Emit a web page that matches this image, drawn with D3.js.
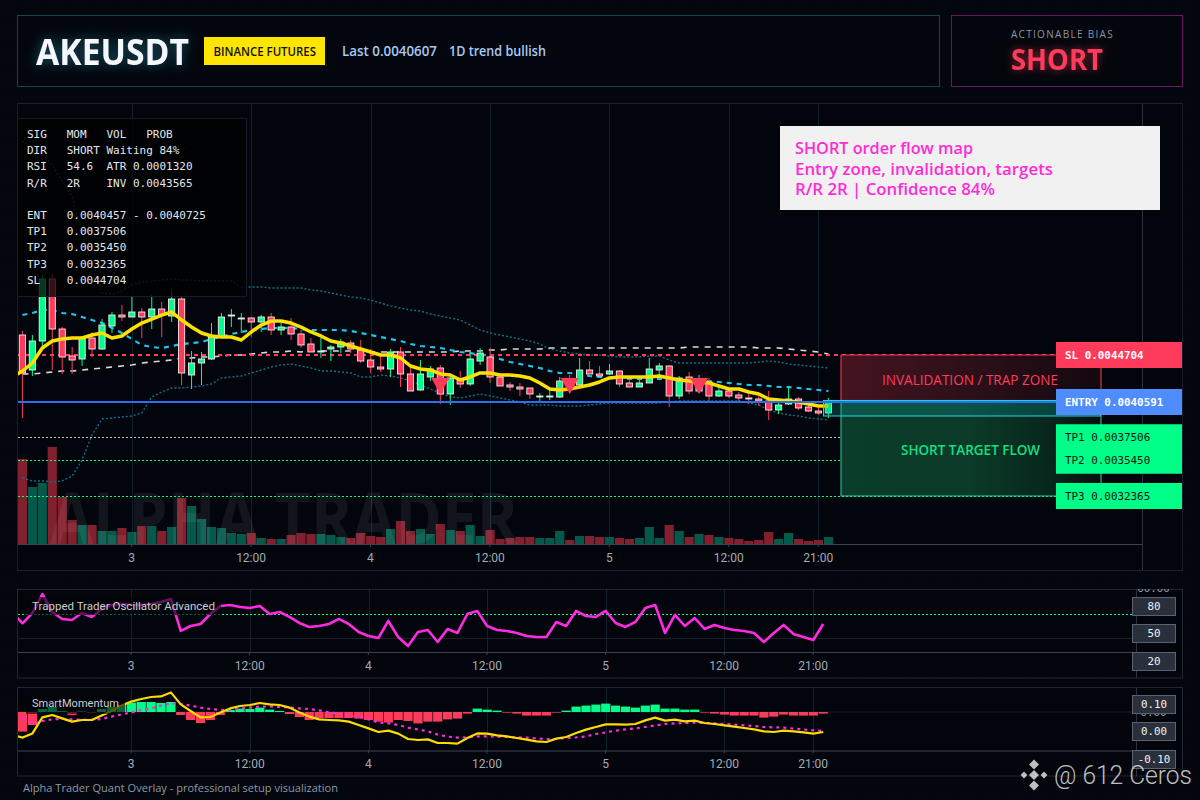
<!DOCTYPE html>
<html><head><meta charset="utf-8">
<script src="https://cdn.jsdelivr.net/npm/d3@7"></script>
<style>html,body{margin:0;padding:0;background:#03060c;overflow:hidden}svg{display:block}</style>
</head><body><div id="chart"></div>
<script>
// Prices are in units of 1e-7 USDT
const opens=[46454,43392,45929,51354,46979,44617,44354,46192,45229,47242,48204,48029,48467,48029,48729,48117,49604,42954,44004,44354,46279,48117,47854,47942,47592,48029,46892,47154,46542,45667,44967,45229,45404,45754,45142,44267,43654,43479,44967,43042,41642,42779,43567,41292,42517,42167,44179,44529,42779,42079,41904,41817,41029,41029,41029,42517,42079,43392,43042,43042,43304,42254,41904,42254,43392,43742,41117,42779,41554,42342,41117,41554,41204,40942,40854,40679,39892,40417,40854,40154,39804,39629];
const closes=[43129,45929,51354,46979,44529,44267,46192,45229,47329,48204,48029,48467,48029,48729,48204,49604,43129,44004,44354,46279,48029,48204,47942,47592,48029,46892,47154,46542,45579,44967,45054,45404,45842,45229,44179,43654,43479,44967,43042,41554,43042,43479,41292,42692,42167,44354,44879,42779,41992,41904,41729,41292,41117,41117,42429,41904,43392,43042,42867,43304,42167,41904,42254,43479,43742,41117,42692,41554,42079,41117,41554,41117,40942,40854,40679,39892,40329,40854,40067,39804,39629,40679];
const highs=[46804,46454,51704,51879,47154,45404,46367,46717,47854,48467,49079,49779,48817,49954,49342,50392,49779,45054,44967,47504,48379,48729,48379,48029,48204,48379,47592,47942,46892,46192,46192,45579,46104,46017,46017,45229,44704,45229,45404,43654,44267,43742,43829,42779,43304,44967,45317,45317,42954,42342,42254,41817,41379,41642,42779,42954,44442,44179,43742,43917,43392,42692,42517,44442,44004,43829,42867,43217,42954,42692,41904,41817,41467,41379,41117,41554,40592,41904,41029,40329,40067,40942];
const lows=[39192,42867,45142,43392,43042,43042,43742,44529,45142,46629,47679,48029,46192,46979,46279,47592,42079,41729,42079,44267,46192,47154,46629,46279,46717,46454,46454,46017,45317,44967,44442,44179,44879,44879,44004,43129,43217,42779,41904,41554,41554,42429,40417,40329,41817,41992,43829,42254,41992,41554,41117,40854,40504,40767,40942,41554,41904,43042,42692,42954,41904,41904,41904,42254,42954,40154,40854,41292,41379,40679,41029,40942,40592,40417,40242,39017,39542,40329,39892,39717,39454,39192];
const volumes=[85,57,61,97,47,24,19,19,13,13,16,12,18,18,13,17,46,38,25,17,16,11,10,11,6,5,5,9,11,10,10,9,7,6,11,8,7,15,23,13,15,10,20,14,13,19,8,14,5,6,7,7,6,6,13,4,8,8,7,7,6,5,6,17,6,19,13,7,10,9,7,6,5,3,4,12,5,11,5,3,4,7];
const emaFast=[43304,44004,45317,45929,46104,46192,46192,46454,46629,46192,46367,46979,47504,47854,48204,48467,47767,47154,46629,46367,46279,46279,46017,46717,47329,47679,47679,47504,47154,46717,46367,45929,45754,45492,45229,44967,44704,44704,44442,43742,43479,43392,43042,42954,42517,42779,43129,43129,42954,42954,42867,42692,42254,41729,41642,41729,41904,42079,42342,42692,42779,42779,42779,42779,42867,42692,42517,42429,42342,42254,41992,41729,41729,41467,41292,40854,40767,40679,40592,40417,40242,40242];
const emaFastLead=42779;
const emaSlow=[48204,48379,48642,48642,48379,48292,48029,47767,47504,47067,46629,46104,45579,45404,45317,45492,45667,45754,45842,46104,46279,46542,46717,46892,46979,47067,47067,47067,46979,46892,46892,46892,46892,46804,46629,46454,46279,46104,45929,45667,45492,45404,45317,45142,44967,44879,44704,44529,44354,44092,43917,43742,43567,43304,43129,43129,43042,42867,42779,42692,42692,42604,42604,42604,42604,42604,42517,42429,42429,42429,42342,42254,42167,42079,42079,41992,41904,41904,41817,41729,41642,41554];
const maTrend=[43042,43042,43129,43217,43304,43304,43392,43479,43567,43654,43742,43829,44004,44092,44179,44267,44442,44442,44529,44529,44617,44704,44704,44792,44879,44967,44967,45054,44967,45054,45054,45054,45054,45054,45054,44967,44967,44967,44967,44967,44967,44967,44967,44967,45054,45054,45054,45142,45142,45229,45229,45229,45229,45317,45317,45317,45317,45317,45317,45317,45317,45317,45317,45317,45317,45317,45317,45404,45404,45404,45404,45404,45404,45404,45317,45317,45317,45229,45142,45054,44967,44792];
const bandUpper=[63429,62904,62292,61329,59929,58529,55467,52317,50129,50042,50304,50829,51092,51179,51267,51354,51267,51267,51179,51179,51179,51179,50654,50654,50654,50567,50567,50567,50567,50392,50304,50129,49954,49779,49692,49517,49254,48992,48817,48642,48554,48292,48117,47942,47767,47329,46892,46629,46454,46279,46104,45929,45667,45229,45054,44879,44792,44704,44704,44617,44529,44529,44529,44617,44617,44267,44004,44004,44004,44004,44004,44004,44004,44004,44092,44179,44092,43917,43829,43742,43654,43567];
const bandLower=[33942,33679,33679,33592,33679,34117,35517,37704,39104,39192,39279,39367,39629,41029,41467,41817,41817,41904,41992,42167,42692,42779,42867,43129,43392,43654,43829,43917,43742,43567,43304,43304,43217,43129,42779,42779,42954,42867,42692,42429,42079,41729,41379,41029,40942,41117,41292,41117,40942,40767,40592,40329,40329,40329,40242,40242,40242,40329,40417,40504,40504,40504,40504,40504,40504,40592,40679,40679,40679,40679,40679,40679,40679,40504,40329,39892,39629,39454,39367,39192,39104,39017];
const signalIdx=[42,55,68];
const levelSL=44704, levelEntry=40591, levelTP1=37506, levelTP2=35450, levelTP3=32365, entryTop=40725, entryBottom=39367;
const oscValues=[68.4,81.3,105,82.5,73.8,72.5,81.3,76.3,86.3,91.3,92.5,91.3,91.3,92.5,95,98.8,58.8,65,67.5,80,90,91.3,88.8,87.5,90,80,82.5,76.3,68.8,63.8,65,67.5,73.8,67.5,57.5,52.5,50,71.3,51.3,40,57.5,60,45,61.3,56.3,80,83.8,65,60,58.8,56.3,52.5,51.3,51.3,70,65,83.8,77.5,76.3,83.8,68.8,63.8,70,87.5,91.3,56.3,78.8,65,75,61.3,66.3,62.5,60,58.8,56.3,45,56.3,66.3,55,51.3,47.5,67.5];
const oscLead=81;
// SmartMomentum in units of 1e-3
const momHist=[-98,-65,15,25,5,-15,3,-3,15,25,35,47,50,50,45,50,-15,-40,-55,-40,-15,10,17,15,22,12,5,-10,-25,-40,-30,-30,-30,-30,-33,-40,-48,-53,-40,-45,-57,-48,-48,-37,-33,-8,17,12,7,-3,-8,-18,-18,-18,-3,7,27,32,37,42,32,27,22,32,37,17,17,12,12,-3,-8,-13,-18,-18,-18,-28,-23,-13,-18,-18,-18,-8];
const momLine=[-128,-107,-27,-15,-32,-48,-40,-40,-18,5,32,52,65,75,78,98,38,5,-27,-25,-2,18,30,35,45,38,35,22,-2,-23,-37,-40,-42,-48,-65,-82,-100,-93,-108,-135,-140,-137,-155,-155,-158,-130,-107,-108,-117,-122,-130,-138,-147,-150,-133,-125,-105,-88,-75,-62,-62,-63,-60,-42,-28,-43,-38,-47,-43,-55,-60,-67,-73,-80,-87,-97,-100,-93,-97,-102,-108,-100];
const momLineLead=-115;
const momSignal=[-27,-57,-45,-37,-35,-37,-38,-40,-35,-23,-12,-2,10,18,32,43,40,32,22,15,10,10,17,22,27,28,25,22,18,15,8,-2,-8,-15,-23,-37,-52,-57,-65,-78,-87,-97,-113,-123,-128,-127,-122,-122,-123,-125,-127,-128,-132,-135,-135,-130,-127,-122,-110,-102,-93,-87,-82,-75,-67,-60,-57,-55,-53,-55,-57,-60,-63,-67,-70,-75,-77,-78,-83,-87,-92,-95];
const tickIdx=[11,23,35,47,59,71,80];
const tickLabels=["3","12:00","4","12:00","5","12:00","21:00"];
const tableRows=["SIG   MOM   VOL   PROB","DIR   SHORT Waiting 84%","RSI   54.6  ATR 0.0001320","R/R   2R    INV 0.0043565","ENT   0.0040457 - 0.0040725","TP1   0.0037506","TP2   0.0035450","TP3   0.0032365","SL    0.0044704"];
const noteRows=["SHORT order flow map","Entry zone, invalidation, targets","R/R 2R | Confidence 84%"];

const UP="#00ff88",DOWN="#ff3b5c",SANS="'Open Sans', 'Noto Sans', sans-serif",MONO="'DejaVu Sans Mono', monospace",AX="Roboto, sans-serif";
const svg=d3.select("#chart").append("svg").attr("width",1200).attr("height",800);
const defs=svg.append("defs");
function glow(id,s,c,o){defs.append("filter").attr("id",id).attr("x","-60%").attr("y","-60%").attr("width","220%").attr("height","220%").append("feDropShadow").attr("dx",0).attr("dy",0).attr("stdDeviation",s).attr("flood-color",c).attr("flood-opacity",o);}
glow("glowTitle",6,"#38cfff",.4);glow("glowShort",4,"#ff3b5c",.55);glow("glowTri",6,"#ff3b5c",.3);
function grad(id,stops){const g=defs.append("linearGradient").attr("id",id);stops.forEach(s=>g.append("stop").attr("offset",s[0]).attr("stop-color",s[1]));}
grad("gRed",[[0,"#45141f"],[0.55,"#2a0f18"],[1,"#14080f"]]);
grad("gGreen",[[0,"#0a3d2a"],[0.5,"#0b3a28"],[0.82,"#07251b"],[1,"#06120f"]]);
const pat=defs.append("pattern").attr("id","bg").attr("width",3).attr("height",3).attr("patternUnits","userSpaceOnUse");
pat.append("rect").attr("width",3).attr("height",3).attr("fill","#03060c");
pat.append("rect").attr("width",1).attr("height",1).attr("fill","#060a12");
[["clipMain",18,104,1124,440],["clipOsc",18,590,1118,62],["clipMom",18,688,1118,63],["clipAxis",1136,589,47,90]].forEach(c=>
 defs.append("clipPath").attr("id",c[0]).append("rect").attr("x",c[1]).attr("y",c[2]).attr("width",c[3]).attr("height",c[4]));

svg.append("rect").attr("width",1200).attr("height",800).attr("fill","url(#bg)");
const rect=(g,x,y,w,h,fill,stroke,sw)=>g.append("rect").attr("x",x).attr("y",y).attr("width",w).attr("height",h).attr("fill",fill||"none").attr("stroke",stroke||"none").attr("stroke-width",sw||1);
const text=(g,x,y,t,size,fill,font,o={})=>{const e=g.append("text").attr("x",x).attr("y",y).text(t).attr("font-size",size).attr("fill",fill).attr("font-family",font).attr("font-weight",o.w||400).attr("text-anchor",o.a||"start").attr("dominant-baseline","central").attr("letter-spacing",o.ls||null).attr("filter",o.f||null).style("white-space","pre");
 if(o.len)e.attr("textLength",o.len).attr("lengthAdjust","spacingAndGlyphs");return e;};

// header
rect(svg,17.5,15.5,922,71,"#03070d","#0e4650");
rect(svg,951.5,15.5,231,71,"#03060c","#6a1560");
text(svg,36,51,"AKEUSDT",36,"#f4f7fc",SANS,{w:700,f:"url(#glowTitle)",len:153});
rect(svg,204,37,121,28,"#ffe600");
text(svg,213.5,51,"BINANCE FUTURES",13,"#111",SANS,{w:600,len:102.5});
text(svg,342,51,"Last 0.0040607",13.5,"#a9c8f2",SANS,{w:600,len:95});
text(svg,449,51,"1D trend bullish",13.5,"#a9c8f2",SANS,{w:600,len:97});
text(svg,1011,34,"ACTIONABLE BIAS",10,"#8d95a3",SANS,{ls:"1.3px"});
text(svg,1011,58.5,"SHORT",29,DOWN,SANS,{w:700,f:"url(#glowShort)",len:92});

// panels
rect(svg,17.5,103.5,1165,467,"#02050b","#18202c");
rect(svg,17.5,589.5,1165,88.5,"#02050b","#1e2632");
rect(svg,17.5,687.5,1165,88.5,"#02050b","#1e2632");
[[1142,104,570],[1136,590,678],[1136,688,776]].forEach(v=>svg.append("line").attr("x1",v[0]+.5).attr("x2",v[0]+.5).attr("y1",v[1]).attr("y2",v[2]).attr("stroke","#2a3240"));

const x=d3.scaleLinear().domain([0,81]).range([22.4,828.4]);
const xs=d3.scaleLinear().domain([0,81]).range([22.6,823.2]);
const yP=d3.scaleLinear().domain([levelSL,levelTP3]).range([355,496]);
const yV=d3.scaleLinear().domain([0,97]).range([544,447]);
const yO=d3.scaleLinear().domain([80,50]).range([614,638]);
const yM=d3.scaleLinear().domain([0,100]).range([712,692]);
const candles=opens.map((o,i)=>({i,o,c:closes[i],h:highs[i],l:lows[i],v:volumes[i],up:closes[i]>=o}));

function axis(scale,yLine,yBottom){
 const grid=svg.append("g");
 grid.selectAll("line").data(tickIdx).join("line").attr("x1",d=>Math.round(scale(d))+.5).attr("x2",d=>Math.round(scale(d))+.5).attr("y1",yBottom[0]).attr("y2",yLine).attr("stroke","#12212b");
 const g=svg.append("g").attr("transform",`translate(-0.7,${yLine})`).call(d3.axisBottom(scale).tickValues(tickIdx).tickFormat((d,i)=>tickLabels[i]).tickSize(3).tickPadding(6));
 g.select(".domain").remove();
 g.selectAll("line").attr("stroke","#3c4452");
 g.selectAll("text").attr("fill","#a4abb6").attr("font-family",AX).attr("font-size",12);
 svg.append("line").attr("x1",18).attr("x2",yBottom[1]).attr("y1",yLine+.5).attr("y2",yLine+.5).attr("stroke","#3a4250");
}
axis(x,544,[104,1142]);axis(xs,652,[590,1136]);axis(xs,750.5,[688,1136]);

// main chart
const main=svg.append("g").attr("clip-path","url(#clipMain)");
main.selectAll(".vol").data(candles).join("rect").attr("x",d=>x(d.i)-4.6).attr("width",9.2).attr("y",d=>yV(d.v)).attr("height",d=>yV(0)-yV(d.v)).attr("fill",d=>d.up?"#05594b":"#82202f");
main.append("text").attr("x",50).attr("y",544).text("ALPHA TRADER").attr("font-size",72).attr("font-family",SANS).attr("font-weight",700).attr("fill","rgba(255,255,255,.065)").attr("textLength",468).attr("lengthAdjust","spacingAndGlyphs");

const hline=(y,color,w,dash,x2)=>{const yy=w===1?Math.floor(y)+.5:y;return main.append("line").attr("x1",18).attr("x2",x2||1056).attr("y1",yy).attr("y2",yy).attr("stroke",color).attr("stroke-width",w).attr("stroke-dasharray",dash||null);};
// lead: value one step before the first candle, clipped by the pane edge
const path=(g,data,sc,ys,color,w,dash,lead)=>{const pts=data.map((d,i)=>[i,d]);if(lead!==undefined)pts.unshift([-1,lead]);
 return g.append("path").datum(pts).attr("d",d3.line().x(d=>sc(d[0])).y(d=>ys(d[1]))).attr("fill","none").attr("stroke",color).attr("stroke-width",w).attr("stroke-dasharray",dash||null).attr("stroke-linejoin","round");};

path(main,bandUpper,x,yP,"#11708c",1.4,"2 2");
path(main,bandLower,x,yP,"#11708c",1.4,"2 2");
hline(yP(levelTP1),"rgba(215,235,225,.85)",1,"2 2");
hline(yP(levelTP2),UP,1,"2 2");
hline(yP(levelTP3),UP,1,"2 2");
path(main,maTrend,x,yP,"#d8dbe0",1.6,"6 6");
hline(yP(levelSL),DOWN,2,"4 4");
path(main,emaSlow,x,yP,"#18c8f0",2.2,"5 5");
hline(yP(levelEntry),"#2a6ef2",2);

const cg=main.selectAll(".c").data(candles).join("g");
cg.append("line").attr("x1",d=>x(d.i)).attr("x2",d=>x(d.i)).attr("y1",d=>yP(d.h)).attr("y2",d=>yP(d.l)).attr("stroke",d=>d.up?UP:DOWN).attr("stroke-width",1);
cg.append("rect").attr("x",d=>x(d.i)-3.1).attr("width",6.2).attr("y",d=>yP(Math.max(d.o,d.c))).attr("height",d=>Math.max(1,Math.abs(yP(d.o)-yP(d.c)))).attr("fill",d=>d.up?UP:DOWN).attr("stroke","#f4e9ee").attr("stroke-width",.9);
path(main,emaFast,x,yP,"#ffe100",3.5,null,emaFastLead);

// trade zones
const zx=841,zw=260;
rect(main,zx,yP(levelSL),zw,yP(levelEntry)-yP(levelSL),"url(#gRed)",DOWN,1);
rect(main,zx,yP(levelEntry),zw,yP(levelTP3)-yP(levelEntry),"url(#gGreen)","#2fcf9c",1);
rect(main,823.5,yP(entryTop),277,yP(entryBottom)-yP(entryTop),"rgba(10,150,150,.27)","#27d6de",1);
hline(yP(levelEntry),"#2a6ef2",2,null,1056);
// signals
main.selectAll(".sig").data(signalIdx).join("path").attr("d",d=>{const cx=x(d),t=yP(42692);return `M${cx-9},${t}L${cx+9},${t}L${cx},${t+16}Z`;}).attr("fill",DOWN).attr("filter","url(#glowTri)");

text(svg,882,379,"INVALIDATION / TRAP ZONE",14,DOWN,SANS,{w:500,len:176});
text(svg,901,449,"SHORT TARGET FLOW",14,"#10e084",SANS,{w:600,len:139});

// level tags
[[levelSL,DOWN],[levelEntry,"#4f8cff"],[levelTP1,UP],[levelTP2,UP],[levelTP3,UP]].forEach(t=>rect(svg,1056,yP(t[0])-13,126,26,t[1]));
[["SL 0.0044704",levelSL,"#fff",700],["ENTRY 0.0040591",levelEntry,"#fff",700],["TP1 0.0037506",levelTP1,"#05150e",400],["TP2 0.0035450",levelTP2,"#05150e",400],["TP3 0.0032365",levelTP3,"#05150e",400]].forEach(t=>
 text(svg,1065,yP(t[1]),t[0],10.9,t[2],MONO,{w:t[3]}));

// table
rect(svg,17.5,118.5,229,178,"rgba(0,0,0,.78)","#151b24");
const tableY=[134,150,166,183,215,231,247,264,280];
tableRows.forEach((r,i)=>text(svg,27,tableY[i],r,11,"#e2e7ee",MONO));

// note
rect(svg,780,126,380,84,"#f1f1f2");
const noteLen=[178,258,200];
noteRows.forEach((r,i)=>text(svg,795,[147,168,188][i],r,16.5,"#ff2bd6",SANS,{w:600,len:noteLen[i]}));

// oscillator
const osc=svg.append("g").attr("clip-path","url(#clipOsc)");
osc.append("line").attr("x1",18).attr("x2",1136).attr("y1",yO(50)+.5).attr("y2",yO(50)+.5).attr("stroke","#1a2026");
osc.append("line").attr("x1",18).attr("x2",1136).attr("y1",yO(80)+.5).attr("y2",yO(80)+.5).attr("stroke",UP).attr("stroke-dasharray","2 2");
path(osc,oscValues,xs,yO,"#ff2be0",2.6,null,oscLead);
rect(svg,26,597,195,18,"rgba(3,5,10,.62)");
text(svg,32,605.5,"Trapped Trader Oscillator Advanced",11.5,"#c9ced6",AX,{len:183});

// momentum
const mom=svg.append("g").attr("clip-path","url(#clipMom)");
mom.append("line").attr("x1",18).attr("x2",1136).attr("y1",yM(0)).attr("y2",yM(0)).attr("stroke","#1a2026");
mom.selectAll(".h").data(momHist).join("rect").attr("x",(d,i)=>xs(i)-4.6).attr("width",9.2).attr("y",d=>Math.min(yM(d),yM(0))).attr("height",d=>Math.abs(yM(d)-yM(0))).attr("fill",d=>d>=0?UP:DOWN);
path(mom,momSignal,xs,yM,"#ff2be0",2.2,"3 4");
path(mom,momLine,xs,yM,"#ffdc00",2.2,null,momLineLead);
rect(svg,26,695,99,19,"rgba(3,5,10,.62)");
text(svg,32,703,"SmartMomentum",11.5,"#c9ced6",AX,{len:87});

// scale tags
const axG=svg.append("g").attr("clip-path","url(#clipAxis)");
text(axG,1153.5,588.5,"60.00",10.8,"#9aa2ad",MONO,{a:"middle"});
text(svg,1153.5,712,"0.00",10.8,"#9aa2ad",MONO,{a:"middle"});
[["80",597],["50",624],["20",652],["0.10",695],["0.00",722],["-0.10",750]].forEach(t=>{
 rect(svg,1132.5,t[1]+.5,43,18,"#2a303b","#5a6270");
 text(svg,1154,t[1]+9.5,t[0],10.8,"#f0f2f5",MONO,{a:"middle"});
});

// footer
text(svg,23,787,"Alpha Trader Quant Overlay - professional setup visualization",11,"#8e99a6",SANS,{len:315});
const wm=svg.append("g").attr("fill","rgba(225,225,225,.85)");
[[1034,775,5],[1024,775,3.4],[1044,775,3.4],[1034,764.5,5],[1034,785.5,5]].forEach(d=>wm.append("path").attr("d",`M${d[0]-d[2]},${d[1]}L${d[0]},${d[1]-d[2]}L${d[0]+d[2]},${d[1]}L${d[0]},${d[1]+d[2]}Z`));
text(svg,1054,775,"@ 612 Ceros",25,"rgba(225,225,225,.85)",AX,{w:300,len:138});
</script></body></html>
